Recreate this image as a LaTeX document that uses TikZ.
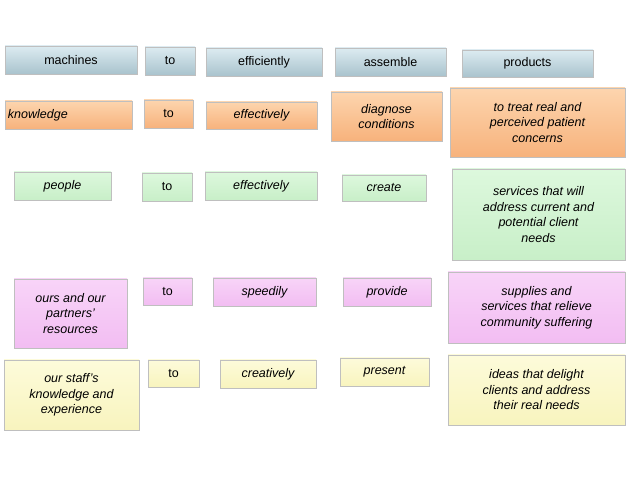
\documentclass[tikz,border=0pt]{standalone}
\usepackage{fontspec}
\setmainfont{Liberation Sans}
\usetikzlibrary{shadows}
\definecolor{bluet}{HTML}{DCEBF1}\definecolor{blueb}{HTML}{A9C3CD}
\definecolor{orat}{HTML}{FDD5AE}\definecolor{orab}{HTML}{F7B27C}
\definecolor{grnt}{HTML}{DDF8DD}\definecolor{grnb}{HTML}{C8EFC8}
\definecolor{pnkt}{HTML}{F8D4F8}\definecolor{pnkb}{HTML}{F2BDF2}
\definecolor{ylwt}{HTML}{FDFBDA}\definecolor{ylwb}{HTML}{F8F4BE}
\tikzset{
 bx/.style={draw=black!25, line width=0.4pt, inner sep=1pt, align=center, font=\fontsize{12.5}{15.5}\selectfont,
   drop shadow={shadow xshift=1pt, shadow yshift=-1.5pt, fill=black!35}},
 blu/.style={bx, top color=bluet, bottom color=blueb},
 ora/.style={bx, top color=orat, bottom color=orab, font=\fontsize{12.5}{15.5}\selectfont\itshape},
 grn/.style={bx, top color=grnt, bottom color=grnb, font=\fontsize{12.5}{15.5}\selectfont\itshape},
 pnk/.style={bx, top color=pnkt, bottom color=pnkb, font=\fontsize{12.5}{15.5}\selectfont\itshape},
 ylw/.style={bx, top color=ylwt, bottom color=ylwb, font=\fontsize{12.5}{15.5}\selectfont\itshape},
 up/.style={font=\fontsize{12.5}{15.5}\selectfont\upshape}
}
\newcommand{\bxn}[7]{\node[#6, minimum width={(#4-#2)*1pt}, minimum height={(#5-#3)*1pt}] (#1) at ({(#2+#4)/2},{(#3+#5)/2}) {#7};}
\begin{document}
\begin{tikzpicture}[x=1pt,y=-1pt]
\useasboundingbox[fill=white] (0,0) rectangle (638,478);
% row 1
\bxn{m}{5}{46}{137}{74}{blu}{machines}
\bxn{t1}{145}{47}{195}{75}{blu}{to}
\bxn{e1}{206}{48}{322}{76}{blu}{efficiently}
\bxn{a1}{335}{48}{446}{76}{blu}{assemble}
\bxn{p1}{462}{50}{593}{77}{blu}{products}
% row 2
\node[ora, minimum width=127pt, minimum height=28pt, text width=121pt, align=left] (k) at (68.5,115) {knowledge};
\bxn{t2}{144}{100}{193}{128}{ora,up}{to}
\bxn{e2}{206}{102}{317}{129}{ora}{effectively}
\bxn{d2}{331}{92}{442}{141}{ora}{diagnose\\conditions}
\bxn{p2}{450}{88}{625}{157}{ora}{to treat real and\\perceived patient\\concerns}
% row 3
\bxn{pe}{14}{172}{111}{200}{grn}{people}
\bxn{t3}{142}{173}{192}{201}{grn,up}{to}
\bxn{e3}{205}{172}{317}{200}{grn}{effectively}
\bxn{c3}{342}{175}{426}{201}{grn}{create}
\bxn{s3}{452}{169}{625}{260}{grn}{services that will\\address current and\\potential client\\needs}
% row 4
\bxn{o4}{14}{279}{127}{348}{pnk}{ours and our\\partners'\\resources}
\bxn{t4}{143}{278}{192}{305}{pnk,up}{to}
\bxn{sp4}{213}{278}{316}{306}{pnk}{speedily}
\bxn{pr4}{343}{278}{431}{306}{pnk}{provide}
\bxn{su4}{448}{272}{625}{343}{pnk}{supplies and\\services that relieve\\community suffering}
% row 5
\bxn{o5}{4}{360}{139}{430}{ylw}{our staff's\\knowledge and\\experience}
\bxn{t5}{148}{360}{199}{387}{ylw,up}{to}
\bxn{c5}{220}{360}{316}{388}{ylw}{creatively}
\bxn{pr5}{340}{358}{429}{386}{ylw}{present}
\bxn{i5}{448}{355}{625}{425}{ylw}{ideas that delight\\clients and address\\their real needs}
\end{tikzpicture}
\end{document}
